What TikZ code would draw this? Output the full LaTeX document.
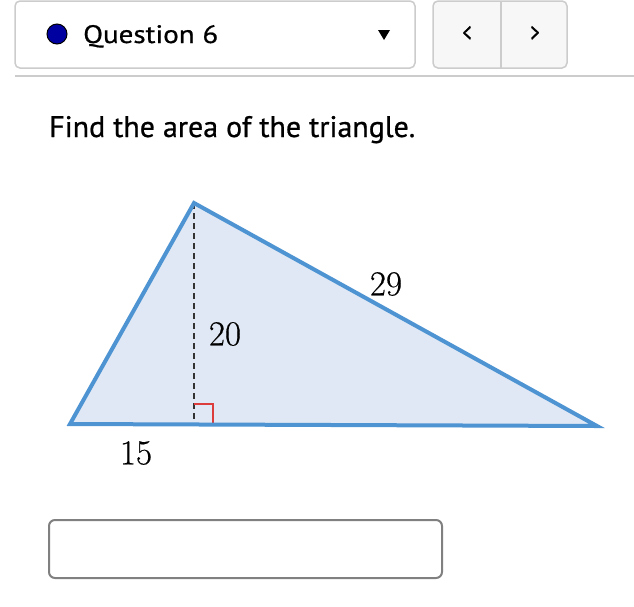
\documentclass[tikz,border=0pt]{standalone}
\usepackage{fontspec}
\setsansfont{PT Sans}
\newfontfamily\uifont{PT Sans}[FakeBold=0.7]
\newfontfamily\numfont{Latin Modern Roman}[FakeBold=0.5]
\definecolor{triline}{RGB}{78,148,210}
\definecolor{trifill}{RGB}{224,232,245}
\definecolor{uiborder}{RGB}{204,204,204}
\definecolor{navfill}{RGB}{247,247,247}
\definecolor{dotblue}{RGB}{0,0,160}
\definecolor{anglered}{RGB}{220,60,60}
\definecolor{ansborder}{RGB}{128,128,128}
\tikzset{
  uibox/.style={draw=uiborder, line width=1.5pt, rounded corners=5pt},
  uitext/.style={font=\uifont, inner sep=0pt, anchor=base west},
  numlabel/.style={font=\numfont\fontsize{35}{37}\selectfont, inner sep=0pt},
  chev/.style={font=\uifont, inner sep=0pt},
}
\begin{document}
\begin{tikzpicture}[x=1pt,y=-1pt]
\useasboundingbox (0,0) rectangle (634,606);
% header
\draw[uibox, fill=white] (15,1) rectangle (415,68);
\node[draw=black, line width=1pt, fill=dotblue, circle, minimum size=20pt, inner sep=0pt] (dot) at (57,34) {};
\node[uitext] (q) at (83,43) {\resizebox{135pt}{18pt}{Question 6}};
\fill[black] (378,30) -- (390,30) -- (384,40) -- cycle;
\draw[uibox, fill=navfill] (433,1) rectangle (567,68);
\draw[uiborder, line width=2pt] (501,1) -- (501,68);
\node[chev] (prev) at (467,34) {\resizebox{9pt}{16pt}{<}};
\node[chev] (next) at (535,34) {\resizebox{9pt}{16pt}{>}};
\draw[uiborder, line width=1.5pt] (15,76) -- (634,76);
% question
\node[uitext] (qt) at (49,137) {\resizebox{366pt}{21pt}{Find the area of the triangle.}};
% triangle
\coordinate (A) at (70,424);
\coordinate (B) at (194,203);
\coordinate (C) at (597,426);
\coordinate (H) at (194,424);
\fill[trifill] (A) -- (B) -- (C) -- cycle;
\draw[black!80, line width=1.5pt, dash pattern=on 6pt off 4pt] (B) -- (H);
\draw[anglered, line width=1.6pt] (194,404) -- (213,404) -- (213,424);
\draw[triline, line width=4pt, line join=miter] (A) -- (B) -- (C) -- cycle;
\node[numlabel] (l29) at (386,284) {29};
\node[numlabel] (l20) at (225,334) {20};
\node[numlabel] (l15) at (136,453) {15};
% answer box
\draw[ansborder, line width=2pt, rounded corners=6pt] (49,520) rectangle (442,578);
\end{tikzpicture}
\end{document}
